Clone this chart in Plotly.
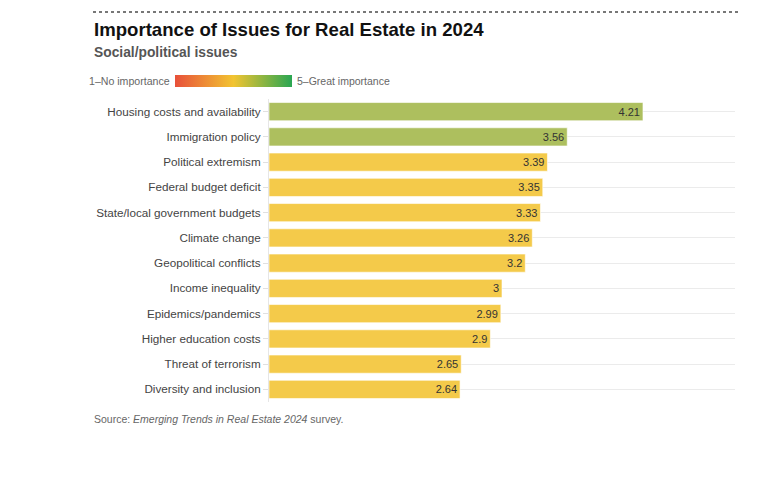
import plotly.graph_objects as go

categories = ["Housing costs and availability", "Immigration policy", "Political extremism",
              "Federal budget deficit", "State/local government budgets", "Climate change",
              "Geopolitical conflicts", "Income inequality", "Epidemics/pandemics",
              "Higher education costs", "Threat of terrorism", "Diversity and inclusion"]
values = [4.21, 3.56, 3.39, 3.35, 3.33, 3.26, 3.2, 3.0, 2.99, 2.9, 2.65, 2.64]
value_labels = ["4.21", "3.56", "3.39", "3.35", "3.33", "3.26", "3.2", "3", "2.99", "2.9", "2.65", "2.64"]
bar_colors = ["#adbf5e", "#adbf5e"] + ["#f4ca4a"] * 10

W, H = 765, 480
L, R, T, B = 269, 735, 99, 402

def px(x):
    return (x - L) / (R - L)

def py(y):
    return (B - y) / (B - T)

fig = go.Figure()
fig.add_trace(go.Bar(
    x=[v - 1 for v in values], base=1, y=categories, orientation="h",
    marker=dict(color=bar_colors, line=dict(color="rgba(255,255,255,0.6)", width=1)),
    text=value_labels, textposition="inside", insidetextanchor="end",
    textfont=dict(family="Liberation Sans, Arial", size=11, color="#333333"),
    width=0.72, hoverinfo="skip", cliponaxis=False,
))

grad_svg = ("data:image/svg+xml;utf8,<svg xmlns='http://www.w3.org/2000/svg' width='117' height='12'>"
            "<defs><linearGradient id='g' x1='0' x2='1' y1='0' y2='0'>"
            "<stop offset='0' stop-color='%23e8503a'/><stop offset='0.5' stop-color='%23f2c431'/>"
            "<stop offset='1' stop-color='%232aa652'/></linearGradient></defs>"
            "<rect width='117' height='12' fill='url(%23g)'/></svg>")

fig.update_layout(
    width=W, height=H, margin=dict(l=L, r=W - R, t=T, b=H - B),
    paper_bgcolor="white", plot_bgcolor="white", showlegend=False,
    font=dict(family="Liberation Sans, Arial", color="#333333"),
    xaxis=dict(range=[1, 5], showticklabels=False, showgrid=False, zeroline=False,
               fixedrange=True),
    yaxis=dict(autorange="reversed", showgrid=True, gridcolor="#ebebeb", gridwidth=1,
               showline=True, linecolor="#e6e6e6", linewidth=1,
               ticks="outside", ticklen=5, tickcolor="#e0e0e0",
               tickfont=dict(size=11.7, color="#444444")),
    images=[dict(source=grad_svg, xref="paper", yref="paper", x=px(175), y=py(75),
                 sizex=px(292) - px(175), sizey=py(75) - py(87), sizing="stretch",
                 xanchor="left", yanchor="top", layer="above")],
    shapes=[dict(type="line", xref="paper", yref="paper", x0=px(93), x1=px(739),
                 y0=py(12), y1=py(12), line=dict(color="#777777", width=2, dash="dot"))],
    annotations=[
        dict(text="<b>Importance of Issues for Real Estate in 2024</b>", xref="paper", yref="paper",
             x=px(92), y=py(29.5), xanchor="left", yanchor="middle", showarrow=False,
             font=dict(size=18.6, color="#111111")),
        dict(text="<b>Social/political issues</b>", xref="paper", yref="paper",
             x=px(92), y=py(53), xanchor="left", yanchor="middle", showarrow=False,
             font=dict(size=13.8, color="#555555")),
        dict(text="1–No importance", xref="paper", yref="paper",
             x=px(172), y=py(81), xanchor="right", yanchor="middle", showarrow=False,
             font=dict(size=10.6, color="#666666")),
        dict(text="5–Great importance", xref="paper", yref="paper",
             x=px(295), y=py(81), xanchor="left", yanchor="middle", showarrow=False,
             font=dict(size=10.5, color="#666666")),
        dict(text="Source: <i>Emerging Trends in Real Estate 2024</i> survey.", xref="paper", yref="paper",
             x=px(92), y=py(419), xanchor="left", yanchor="middle", showarrow=False,
             font=dict(size=10.5, color="#666666")),
    ],
)

fig.write_html("out.html")
